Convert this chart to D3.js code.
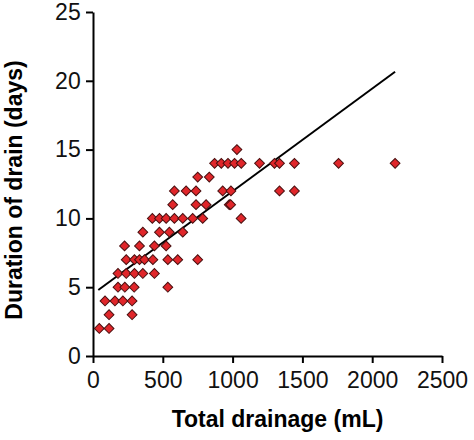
<!DOCTYPE html>
<html><head><meta charset="utf-8">
<script src="https://cdn.jsdelivr.net/npm/d3@7"></script>
<style>body{margin:0;background:#fff}</style></head>
<body><script>
const xTicks=[0,500,1000,1500,2000,2500];
const yTicks=[0,5,10,15,20,25];
const drainage=[45,115,115,280,86,157,214,280,179,228,295,536,179,238,297,357,440,
238,297,333,369,429,536,607,750,226,333,440,524,357,476,547,643,
425,476,524,583,643,714,786,571,738,810,976,986,583,667,738,929,988,1336,1443,
750,833,871,919,967,1014,1062,1193,1300,1336,1443,1759,2164,1031,1061];
const days=[2,2,3,3,4,4,4,4,5,5,5,5,6,6,6,6,6,
7,7,7,7,7,7,7,7,8,8,8,8,9,9,9,9,
10,10,10,10,10,10,10,11,11,11,11,11,12,12,12,12,12,12,12,
13,13,14,14,14,14,14,14,14,14,14,14,14,15,10];
const fitX=[38,2164], fitY=[4.8,20.66];

const W=474,H=440;
const svg=d3.select("body").append("svg").attr("width",W).attr("height",H)
 .style("font-family","'Liberation Sans',Arial,sans-serif");
const x=d3.scaleLinear().domain([0,2500]).range([93,442]);
const y=d3.scaleLinear().domain([0,25]).range([356,12]);

const xa=svg.append("g").attr("transform","translate(0,356)")
 .call(d3.axisBottom(x).tickValues(xTicks).tickFormat(d3.format("d")).tickSize(7).tickSizeOuter(0));
const ya=svg.append("g").attr("transform","translate(93,0)")
 .call(d3.axisLeft(y).tickValues(yTicks).tickSize(7).tickSizeOuter(0));
[xa,ya].forEach(a=>{a.selectAll("path,line").attr("stroke","#000").attr("stroke-width",2);
 a.selectAll("text").attr("font-size",23).attr("fill","#111").style("font-family","'Liberation Sans',Arial,sans-serif");});
xa.selectAll("text").attr("dy","0.95em");
ya.selectAll("text").attr("dx","-0.1em");

svg.append("text").attr("x",(93+442)/2+10).attr("y",427).attr("text-anchor","middle")
 .attr("font-size",23).attr("font-weight","bold").text("Total drainage (mL)");
svg.append("text").attr("transform","translate(22,190) rotate(-90)").attr("text-anchor","middle")
 .attr("font-size",23).attr("font-weight","bold").text("Duration of drain (days)");

svg.append("line").attr("x1",x(fitX[0])).attr("y1",y(fitY[0])).attr("x2",x(fitX[1])).attr("y2",y(fitY[1]))
 .attr("stroke","#000").attr("stroke-width",2);

svg.append("g").selectAll("path").data(drainage).join("path")
 .attr("transform",(d,i)=>`translate(${x(d)},${y(days[i])}) rotate(45)`)
 .attr("d",d3.symbol().type(d3.symbolSquare).size(48)())
 .attr("fill","#e0262a").attr("stroke","#4a1010").attr("stroke-width",1);
</script></body></html>
